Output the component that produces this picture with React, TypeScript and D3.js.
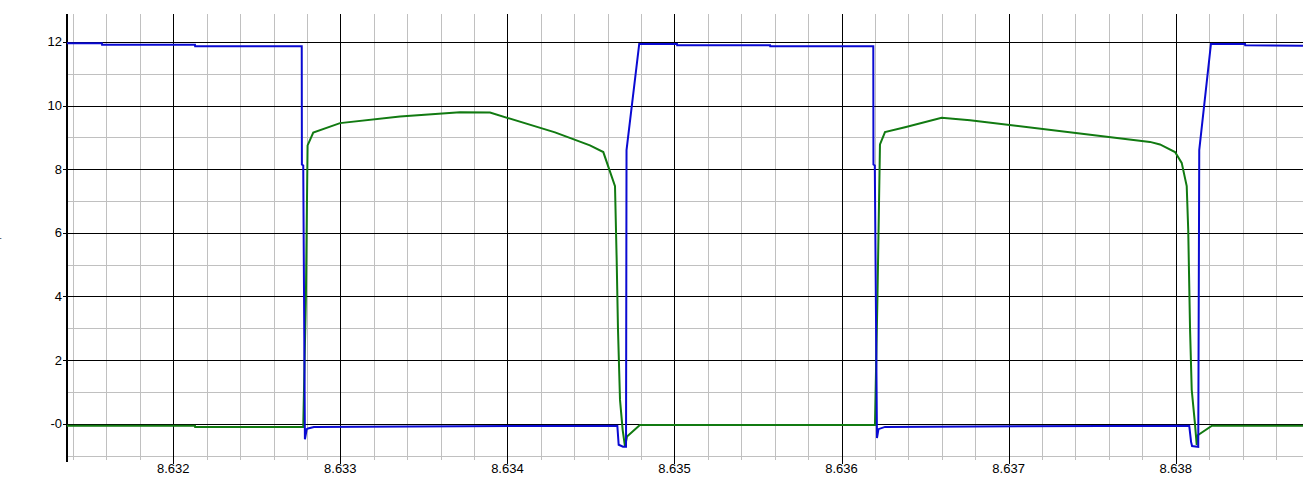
import React from "react";
import * as d3 from "d3";

// ---- Data (time in s, values in V) ----
const blueT = [8.631364, 8.631573, 8.631574, 8.63213, 8.632131, 8.632769, 8.63277, 8.632778, 8.632788, 8.632799, 8.632806, 8.632842, 8.634658, 8.634666, 8.634692, 8.63471, 8.634713, 8.634789, 8.635015, 8.635016, 8.635572, 8.635573, 8.63619, 8.636191, 8.636199, 8.636212, 8.636221, 8.63626, 8.638081, 8.638092, 8.638098, 8.638135, 8.638141, 8.638211, 8.638415, 8.638416, 8.638762];
const blueV = [11.96, 11.96, 11.91, 11.91, 11.87, 11.87, 8.15, 8.12, -0.49, -0.17, -0.15, -0.1, -0.06, -0.66, -0.72, -0.72, 8.6, 11.94, 11.94, 11.9, 11.9, 11.87, 11.87, 8.15, 8.12, -0.45, -0.17, -0.1, -0.06, -0.57, -0.7, -0.73, 8.6, 11.94, 11.94, 11.9, 11.88];

const greenT = [8.631364, 8.63213, 8.632131, 8.632778, 8.632794, 8.632804, 8.632838, 8.632998, 8.633357, 8.633716, 8.633896, 8.634285, 8.634494, 8.634574, 8.634644, 8.634654, 8.634662, 8.634674, 8.63469, 8.634704, 8.634716, 8.634793, 8.6362, 8.636215, 8.63623, 8.63626, 8.63638, 8.636599, 8.636769, 8.637846, 8.637906, 8.637996, 8.638036, 8.638066, 8.638075, 8.638086, 8.638096, 8.638115, 8.638126, 8.63813, 8.638217, 8.638762];
const greenV = [-0.06, -0.06, -0.1, -0.1, 4.0, 8.75, 9.15, 9.45, 9.66, 9.79, 9.78, 9.16, 8.75, 8.54, 7.47, 5.16, 2.95, 0.75, -0.2, -0.72, -0.4, -0.04, -0.04, 4.0, 8.78, 9.17, 9.32, 9.62, 9.54, 8.86, 8.78, 8.54, 8.2, 7.47, 6.1, 2.95, 1.06, 0.02, -0.67, -0.37, -0.06, -0.06];

const xTicks = [8.632, 8.633, 8.634, 8.635, 8.636, 8.637, 8.638];
const xTickLabels = ["8.632", "8.633", "8.634", "8.635", "8.636", "8.637", "8.638"];
const yTicks = [0, 2, 4, 6, 8, 10, 12];
const yTickLabels = ["-0", "2", "4", "6", "8", "10", "12"];
const xDomain = [8.631364, 8.638762];
const yDomain = [-1.14, 12.88];

export default function App() {
  const W = 1314, H = 482;
  const left = 67, right = 1303, top = 14, bottom = 460;
  const x = d3.scaleLinear().domain(xDomain).range([left, right]);
  const y = d3.scaleLinear().domain(yDomain).range([bottom, top]);

  const minorX: number[] = [];
  for (let i = -4; i <= 40; i++) {
    const v = 8.632 + i * 0.0002;
    if (v >= xDomain[0] && v <= xDomain[1] && i % 5 !== 0) minorX.push(v);
  }
  const minorY: number[] = [];
  for (let v = -1; v <= 12; v += 2) minorY.push(v);

  const mk = (T: number[], V: number[]) =>
    d3.line<number>().x((_, i) => x(T[i])).y((_, i) => y(V[i]))(T) || "";

  const font = "'Liberation Sans', Arial, sans-serif";

  return (
    <svg width={W} height={H} style={{ position: "absolute", left: 0, top: 0, background: "#fff" }}>
      <rect x={0} y={0} width={W} height={H} fill="#fff" />
      {/* minor grid */}
      {minorX.map((v, i) => (
        <line key={"mx" + i} x1={Math.round(x(v)) + 0.5} x2={Math.round(x(v)) + 0.5} y1={top} y2={bottom} stroke="#c0c0c0" strokeWidth={1} />
      ))}
      {minorY.map((v, i) => (
        <line key={"my" + i} x1={left} x2={right} y1={Math.round(y(v)) + 0.5} y2={Math.round(y(v)) + 0.5} stroke="#c0c0c0" strokeWidth={1} />
      ))}
      {/* major grid */}
      {xTicks.map((v, i) => (
        <line key={"Mx" + i} x1={Math.round(x(v)) + 0.5} x2={Math.round(x(v)) + 0.5} y1={top} y2={bottom + 4} stroke="#000" strokeWidth={1} />
      ))}
      {yTicks.map((v, i) => (
        <line key={"My" + i} x1={left - 4} x2={right} y1={Math.round(y(v)) + 0.5} y2={Math.round(y(v)) + 0.5} stroke="#000" strokeWidth={1} />
      ))}
      {/* y axis line */}
      <line x1={left} x2={left} y1={top} y2={bottom + 2} stroke="#000" strokeWidth={2} />
      {/* labels */}
      {yTicks.map((v, i) => (
        <text key={"yl" + i} x={left - 5} y={y(v) + 4.5} textAnchor="end" fontFamily={font} fontSize={13} fill="#000">
          {yTickLabels[i]}
        </text>
      ))}
      {xTicks.map((v, i) => (
        <text key={"xl" + i} x={x(v)} y={473} textAnchor="middle" fontFamily={font} fontSize={13} fill="#000">
          {xTickLabels[i]}
        </text>
      ))}
      <text x={-1} y={240} fontFamily={font} fontSize={8} fill="#000">-</text>
      {/* series */}
      <path d={mk(greenT, greenV)} fill="none" stroke="#117a11" strokeWidth={2} strokeLinejoin="miter" />
      <path d={mk(blueT, blueV)} fill="none" stroke="#0a0ad2" strokeWidth={2} strokeLinejoin="miter" />
    </svg>
  );
}
